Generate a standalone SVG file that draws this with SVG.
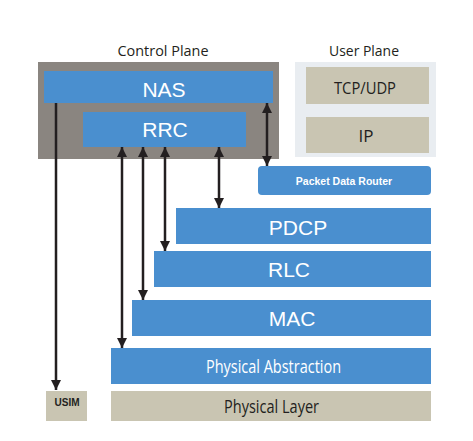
<svg xmlns="http://www.w3.org/2000/svg" width="473" height="441" viewBox="0 0 473 441">
<defs>
<marker id="ah" viewBox="0 0 10 10" refX="10" refY="5" markerWidth="4" markerHeight="4" orient="auto-start-reverse" markerUnits="strokeWidth">
<path d="M0,0 L10,5 L0,10 z" fill="#231f20"/>
</marker>
<style>
.blue{fill:#4a8fcf}
.tan{fill:#c9c5b2}
.wt{font-family:"Liberation Sans",Arial,sans-serif;fill:#ffffff;text-anchor:middle}
.ht{font-family:"Open Sans","Noto Sans",sans-serif;text-anchor:middle}
.ln{stroke:#231f20;stroke-width:2.5;fill:none}
</style>
</defs>
<rect width="473" height="441" fill="#ffffff"/>
<g id="control-plane">
<text x="163" y="56" class="ht" font-size="15" fill="#231f20" textLength="91" lengthAdjust="spacingAndGlyphs">Control Plane</text>
<rect x="38" y="62" width="241" height="97" fill="#8a8580"/>
</g>
<g id="nas">
<rect x="44" y="71" width="229" height="32" class="blue"/>
<text x="164" y="97" class="wt" font-size="21">NAS</text>
</g>
<g id="rrc">
<rect x="83" y="112" width="163" height="35" class="blue"/>
<text x="165" y="137" class="wt" font-size="21">RRC</text>
</g>
<g id="user-plane">
<text x="364" y="56" class="ht" font-size="15" fill="#231f20" textLength="70" lengthAdjust="spacingAndGlyphs">User Plane</text>
<rect x="295" y="62" width="141" height="95" fill="#e9edf1"/>
</g>
<g id="tcp-udp">
<rect x="306" y="67" width="123" height="37" class="tan"/>
<text x="365" y="94" class="ht" font-size="17" fill="#231f20" textLength="62" lengthAdjust="spacingAndGlyphs">TCP/UDP</text>
</g>
<g id="ip">
<rect x="306" y="117" width="123" height="36" class="tan"/>
<text x="366" y="141.5" class="ht" font-size="17" fill="#231f20">IP</text>
</g>
<g id="packet-data-router">
<rect x="258" y="166" width="173" height="29" rx="4" class="blue"/>
<text x="344" y="185" font-family="Liberation Sans,Arial,sans-serif" font-weight="bold" font-size="10.5" fill="#ffffff" text-anchor="middle">Packet Data Router</text>
</g>
<g id="pdcp">
<rect x="176" y="208" width="255" height="36" class="blue"/>
<text x="298" y="235" class="wt" font-size="21">PDCP</text>
</g>
<g id="rlc">
<rect x="154" y="251" width="277" height="36" class="blue"/>
<text x="289" y="277" class="wt" font-size="21">RLC</text>
</g>
<g id="mac">
<rect x="132" y="300" width="299" height="36" class="blue"/>
<text x="292" y="326" class="wt" font-size="21">MAC</text>
</g>
<g id="physical-abstraction">
<rect x="111" y="348" width="320" height="36" class="blue"/>
<text x="273.5" y="373" class="ht" font-size="18" fill="#ffffff" textLength="135" lengthAdjust="spacingAndGlyphs">Physical Abstraction</text>
</g>
<g id="physical-layer">
<rect x="111" y="391" width="320" height="30" class="tan"/>
<text x="271.5" y="413" class="ht" font-size="18" fill="#231f20" textLength="95" lengthAdjust="spacingAndGlyphs">Physical Layer</text>
</g>
<g id="usim">
<rect x="46" y="391" width="41" height="30" class="tan"/>
<text x="67" y="406" font-family="Liberation Sans,Arial,sans-serif" font-weight="bold" font-size="10" fill="#231f20" text-anchor="middle">USIM</text>
</g>
<g id="connectors">
<line x1="56" y1="103" x2="56" y2="390" class="ln" marker-end="url(#ah)"/>
<line x1="122" y1="147" x2="122" y2="348" class="ln" marker-start="url(#ah)" marker-end="url(#ah)"/>
<line x1="143" y1="147" x2="143" y2="300" class="ln" marker-start="url(#ah)" marker-end="url(#ah)"/>
<line x1="165" y1="147" x2="165" y2="251" class="ln" marker-start="url(#ah)" marker-end="url(#ah)"/>
<line x1="219" y1="147" x2="219" y2="208" class="ln" marker-start="url(#ah)" marker-end="url(#ah)"/>
<line x1="267" y1="103" x2="267" y2="166" class="ln" marker-start="url(#ah)" marker-end="url(#ah)"/>
</g>
</svg>
